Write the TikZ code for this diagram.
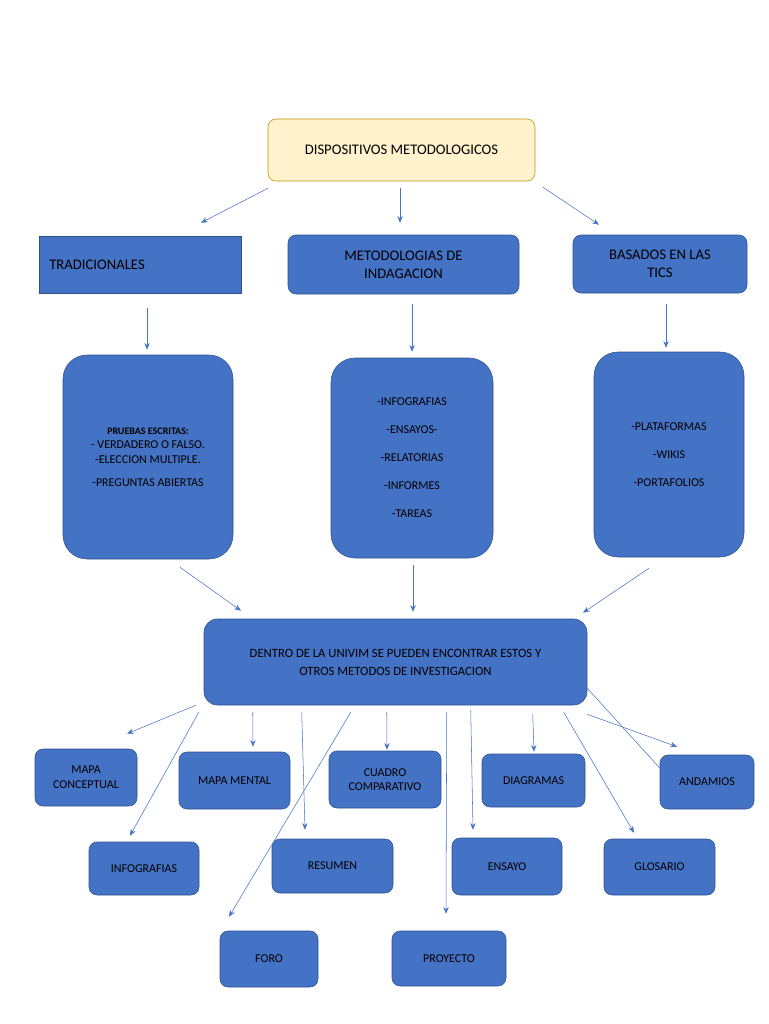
\documentclass[tikz,border=0pt]{standalone}
\usepackage{fontspec}
\setmainfont{Carlito}
\usetikzlibrary{calc,arrows.meta}
\definecolor{boxblue}{HTML}{4472C4}
\definecolor{boxline}{HTML}{2F528F}
\definecolor{topfill}{HTML}{FFF2CC}
\definecolor{topline}{HTML}{BF9000}
\tikzset{
  box/.style={draw=boxline, fill=boxblue, rounded corners=6pt, align=center, font=\fontsize{9}{11}\selectfont, inner sep=2pt},
  bigbox/.style={box, rounded corners=18pt},
  arr/.style={draw=boxblue, -{Stealth[length=5pt,width=4pt]}},
  lin/.style={draw=boxblue}
}
\begin{document}
\begin{tikzpicture}[x=0.75pt,y=-0.75pt]
  % page
  \useasboundingbox (0,0) rectangle (768,1024);

  % top level
  \node[box, fill=topfill, draw=topline, minimum width=200.25pt, minimum height=46.5pt, font=\fontsize{11}{13}\selectfont] (top) at (401.5,150) {DISPOSITIVOS METODOLOGICOS};
  \node[box, rounded corners=0pt, minimum width=151.5pt, minimum height=42.75pt, text width=136pt, align=left, font=\fontsize{11}{13}\selectfont] (trad) at (140,264.5) {TRADICIONALES};
  \node[box, minimum width=173.25pt, minimum height=44.25pt, font=\fontsize{11}{13.5}\selectfont] (met) at (403.5,264.5) {METODOLOGIAS DE\\INDAGACION};
  \node[box, minimum width=130.5pt, minimum height=43.5pt, font=\fontsize{11}{13.5}\selectfont] (bas) at (660,264) {BASADOS EN LAS\\TICS};

  % content boxes
  \node[bigbox, minimum width=127.5pt, minimum height=153pt] (left) at (148,457)
    {{\fontsize{7.5}{9}\selectfont\bfseries PRUEBAS ESCRITAS:}\\- VERDADERO O FALSO.\\-ELECCION MULTIPLE.\\[6pt]-PREGUNTAS ABIERTAS};
  \node[bigbox, minimum width=121.5pt, minimum height=150pt] (mid) at (412,458)
    {-INFOGRAFIAS\\[10pt]-ENSAYOS-\\[10pt]-RELATORIAS\\[10pt]-INFORMES\\[10pt]-TAREAS};
  \node[bigbox, minimum width=112.5pt, minimum height=153.75pt] (right) at (669,454.5)
    {-PLATAFORMAS\\[10pt]-WIKIS\\[10pt]-PORTAFOLIOS};

  \node[box, rounded corners=10pt, minimum width=287.25pt, minimum height=64.5pt, font=\fontsize{9.5}{13.5}\selectfont] (dentro) at (395.5,662)
    {DENTRO DE LA UNIVIM SE PUEDEN ENCONTRAR ESTOS Y\\OTROS METODOS DE INVESTIGACION};

  % leaves
  \node[box, minimum width=76.5pt, minimum height=42.75pt] (mc) at (86,777.5) {MAPA\\CONCEPTUAL};
  \node[box, minimum width=83.25pt, minimum height=42.75pt] (mm) at (234.5,780.5) {MAPA MENTAL};
  \node[box, minimum width=84pt, minimum height=42.75pt] (cuadro) at (385,779.5) {CUADRO\\COMPARATIVO};
  \node[box, minimum width=77.25pt, minimum height=39.75pt] (diag) at (533.5,780.5) {DIAGRAMAS};
  \node[box, minimum width=70.5pt, minimum height=40.5pt] (and) at (707,782) {ANDAMIOS};
  \node[box, minimum width=82.5pt, minimum height=39.75pt] (inf) at (144,868.5) {INFOGRAFIAS};
  \node[box, minimum width=90.75pt, minimum height=40.5pt] (res) at (332.5,866) {RESUMEN};
  \node[box, minimum width=82.5pt, minimum height=42.75pt] (ens) at (507,866.5) {ENSAYO};
  \node[box, minimum width=83.25pt, minimum height=42pt] (glos) at (659.5,867) {GLOSARIO};
  \node[box, minimum width=73.5pt, minimum height=42pt] (foro) at (269,959) {FORO};
  \node[box, minimum width=85.5pt, minimum height=41.25pt] (proy) at (449,958.5) {PROYECTO};

  % arrows from the top
  \draw[arr] ($(top.south)+(-133.5,7)$) -- ($(trad.north)+(61,-13)$);
  \draw[arr] ($(top.south)+(-1.5,7)$) -- ($(met.north)+(-3.5,-12)$);
  \draw[arr] ($(top.south)+(141.5,6)$) -- ($(bas.north)+(-61,-10)$);
  \draw[arr] ($(trad.south)+(7,15)$) -- ($(left.north)+(-1,-5)$);
  \draw[arr] ($(met.south)+(8.5,10)$) -- ($(mid.north)+(0,-6)$);
  \draw[arr] ($(bas.south)+(6,11)$) -- ($(right.north)+(-3,-4)$);
  \draw[arr] ($(left.south)+(32,8)$) -- ($(dentro.north)+(-154.5,-8)$);
  \draw[arr] ($(mid.south)+(1,7)$) -- ($(dentro.north)+(17.5,-7)$);
  \draw[arr] ($(right.south)+(-20,11)$) -- ($(dentro.north)+(187.5,-6)$);

  % arrows to the leaves
  \draw[arr] ($(dentro.south west)+(-8,0)$) -- ($(mc.north)+(41,-15)$);
  \draw[arr] ($(dentro.south west)+(-5,7)$) -- ($(inf.north)+(-14,-6)$);
  \draw[arr] ($(dentro.south west)+(49,7)$) -- ($(mm.north)+(18.5,-5)$);
  \draw[arr] ($(dentro.south west)+(98,7)$) -- ($(res.north)+(-27.5,-9)$);
  \draw[arr] ($(dentro.south west)+(147,7)$) -- ($(foro.north)+(-40,-14)$);
  \draw[arr] ($(dentro.south west)+(183,7)$) -- ($(cuadro.north)+(2,-1)$);
  \draw[arr] ($(dentro.south west)+(243,7)$) -- ($(proy.north)+(-3,-17)$);
  \draw[arr] ($(dentro.south west)+(267,5)$) -- ($(ens.north)+(-34,-8)$);
  \draw[arr] ($(dentro.south west)+(329,9)$) -- ($(diag.north)+(0.5,-2)$);
  \draw[arr] ($(dentro.south west)+(360,7)$) -- ($(glos.north)+(-25.5,-6)$);
  \draw[arr] ($(dentro.south east)+(0,9)$) -- ($(and.north)+(-30,-8)$);
  \draw[lin] ($(dentro.south east)+(0,-17)$) -- ($(and.west)+(0,-14)$);
\end{tikzpicture}
\end{document}
